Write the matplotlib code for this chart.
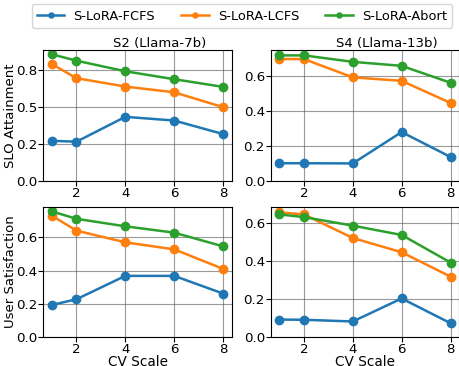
import numpy as np
import matplotlib
matplotlib.use("Agg")
import matplotlib.pyplot as plt
from matplotlib.ticker import MultipleLocator, FormatStrFormatter

cv = [1, 2, 4, 6, 8]
labels = ["S-LoRA-FCFS", "S-LoRA-LCFS", "S-LoRA-Abort"]
colors = ["#1f77b4", "#ff7f0e", "#2ca02c"]
titles = ["S2 (Llama-7b)", "S4 (Llama-13b)"]

# SLO attainment
slo_s2 = [
    [0.271, 0.265, 0.434, 0.409, 0.317],
    [0.792, 0.697, 0.640, 0.601, 0.500],
    [0.859, 0.816, 0.744, 0.690, 0.638],
]
slo_s4 = [
    [0.100, 0.100, 0.099, 0.279, 0.136],
    [0.698, 0.698, 0.593, 0.573, 0.446],
    [0.719, 0.719, 0.682, 0.659, 0.562],
]
# user satisfaction
us_s2 = [
    [0.195, 0.229, 0.369, 0.369, 0.263],
    [0.729, 0.640, 0.570, 0.528, 0.411],
    [0.755, 0.711, 0.666, 0.628, 0.546],
]
us_s4 = [
    [0.094, 0.093, 0.084, 0.205, 0.075],
    [0.658, 0.647, 0.523, 0.448, 0.320],
    [0.647, 0.633, 0.588, 0.539, 0.394],
]

fig, axes = plt.subplots(2, 2, figsize=(4.6, 3.66), dpi=100)
plt.subplots_adjust(left=0.0945, right=0.998, top=0.8634, bottom=0.078,
                    wspace=0.209, hspace=0.2)

data = [[slo_s2, slo_s4], [us_s2, us_s4]]
for r in range(2):
    for c in range(2):
        ax = axes[r][c]
        for i in range(3):
            ax.plot(cv, data[r][c][i], marker="o", color=colors[i],
                    label=labels[i], linewidth=1.8, markersize=6)
        ax.set_ylim(bottom=0)
        ax.set_xticks([2, 4, 6, 8])
        ax.grid(True, color="#555555", linewidth=0.8, alpha=0.6)
        ax.tick_params(labelsize=9.6, pad=0.8)
        if r == 0 and c == 0:
            ax.yaxis.set_major_locator(MultipleLocator(0.25))
        else:
            ax.yaxis.set_major_locator(MultipleLocator(0.2))
        ax.yaxis.set_major_formatter(FormatStrFormatter("%.1f"))
        if r == 0:
            ax.set_title(titles[c], fontsize=9.5, pad=2, x=0.615)
        else:
            ax.set_xlabel("CV Scale", fontsize=9.8, labelpad=-1)

axes[0][0].set_ylabel("SLO Attainment", fontsize=9.5)
axes[1][0].set_ylabel("User Satisfaction", fontsize=9.5)
for ax in axes[:, 0]:
    ax.yaxis.set_label_coords(-0.14, 0.5)

handles, lbls = axes[0][0].get_legend_handles_labels()
fig.legend(handles, lbls, loc="upper center", ncol=3, fontsize=9.4,
           bbox_to_anchor=(0.526, 0.988), borderaxespad=0,
           markerscale=0.6, handlelength=2.1, handletextpad=0.7,
           columnspacing=2.0)

fig.savefig("out.png")
